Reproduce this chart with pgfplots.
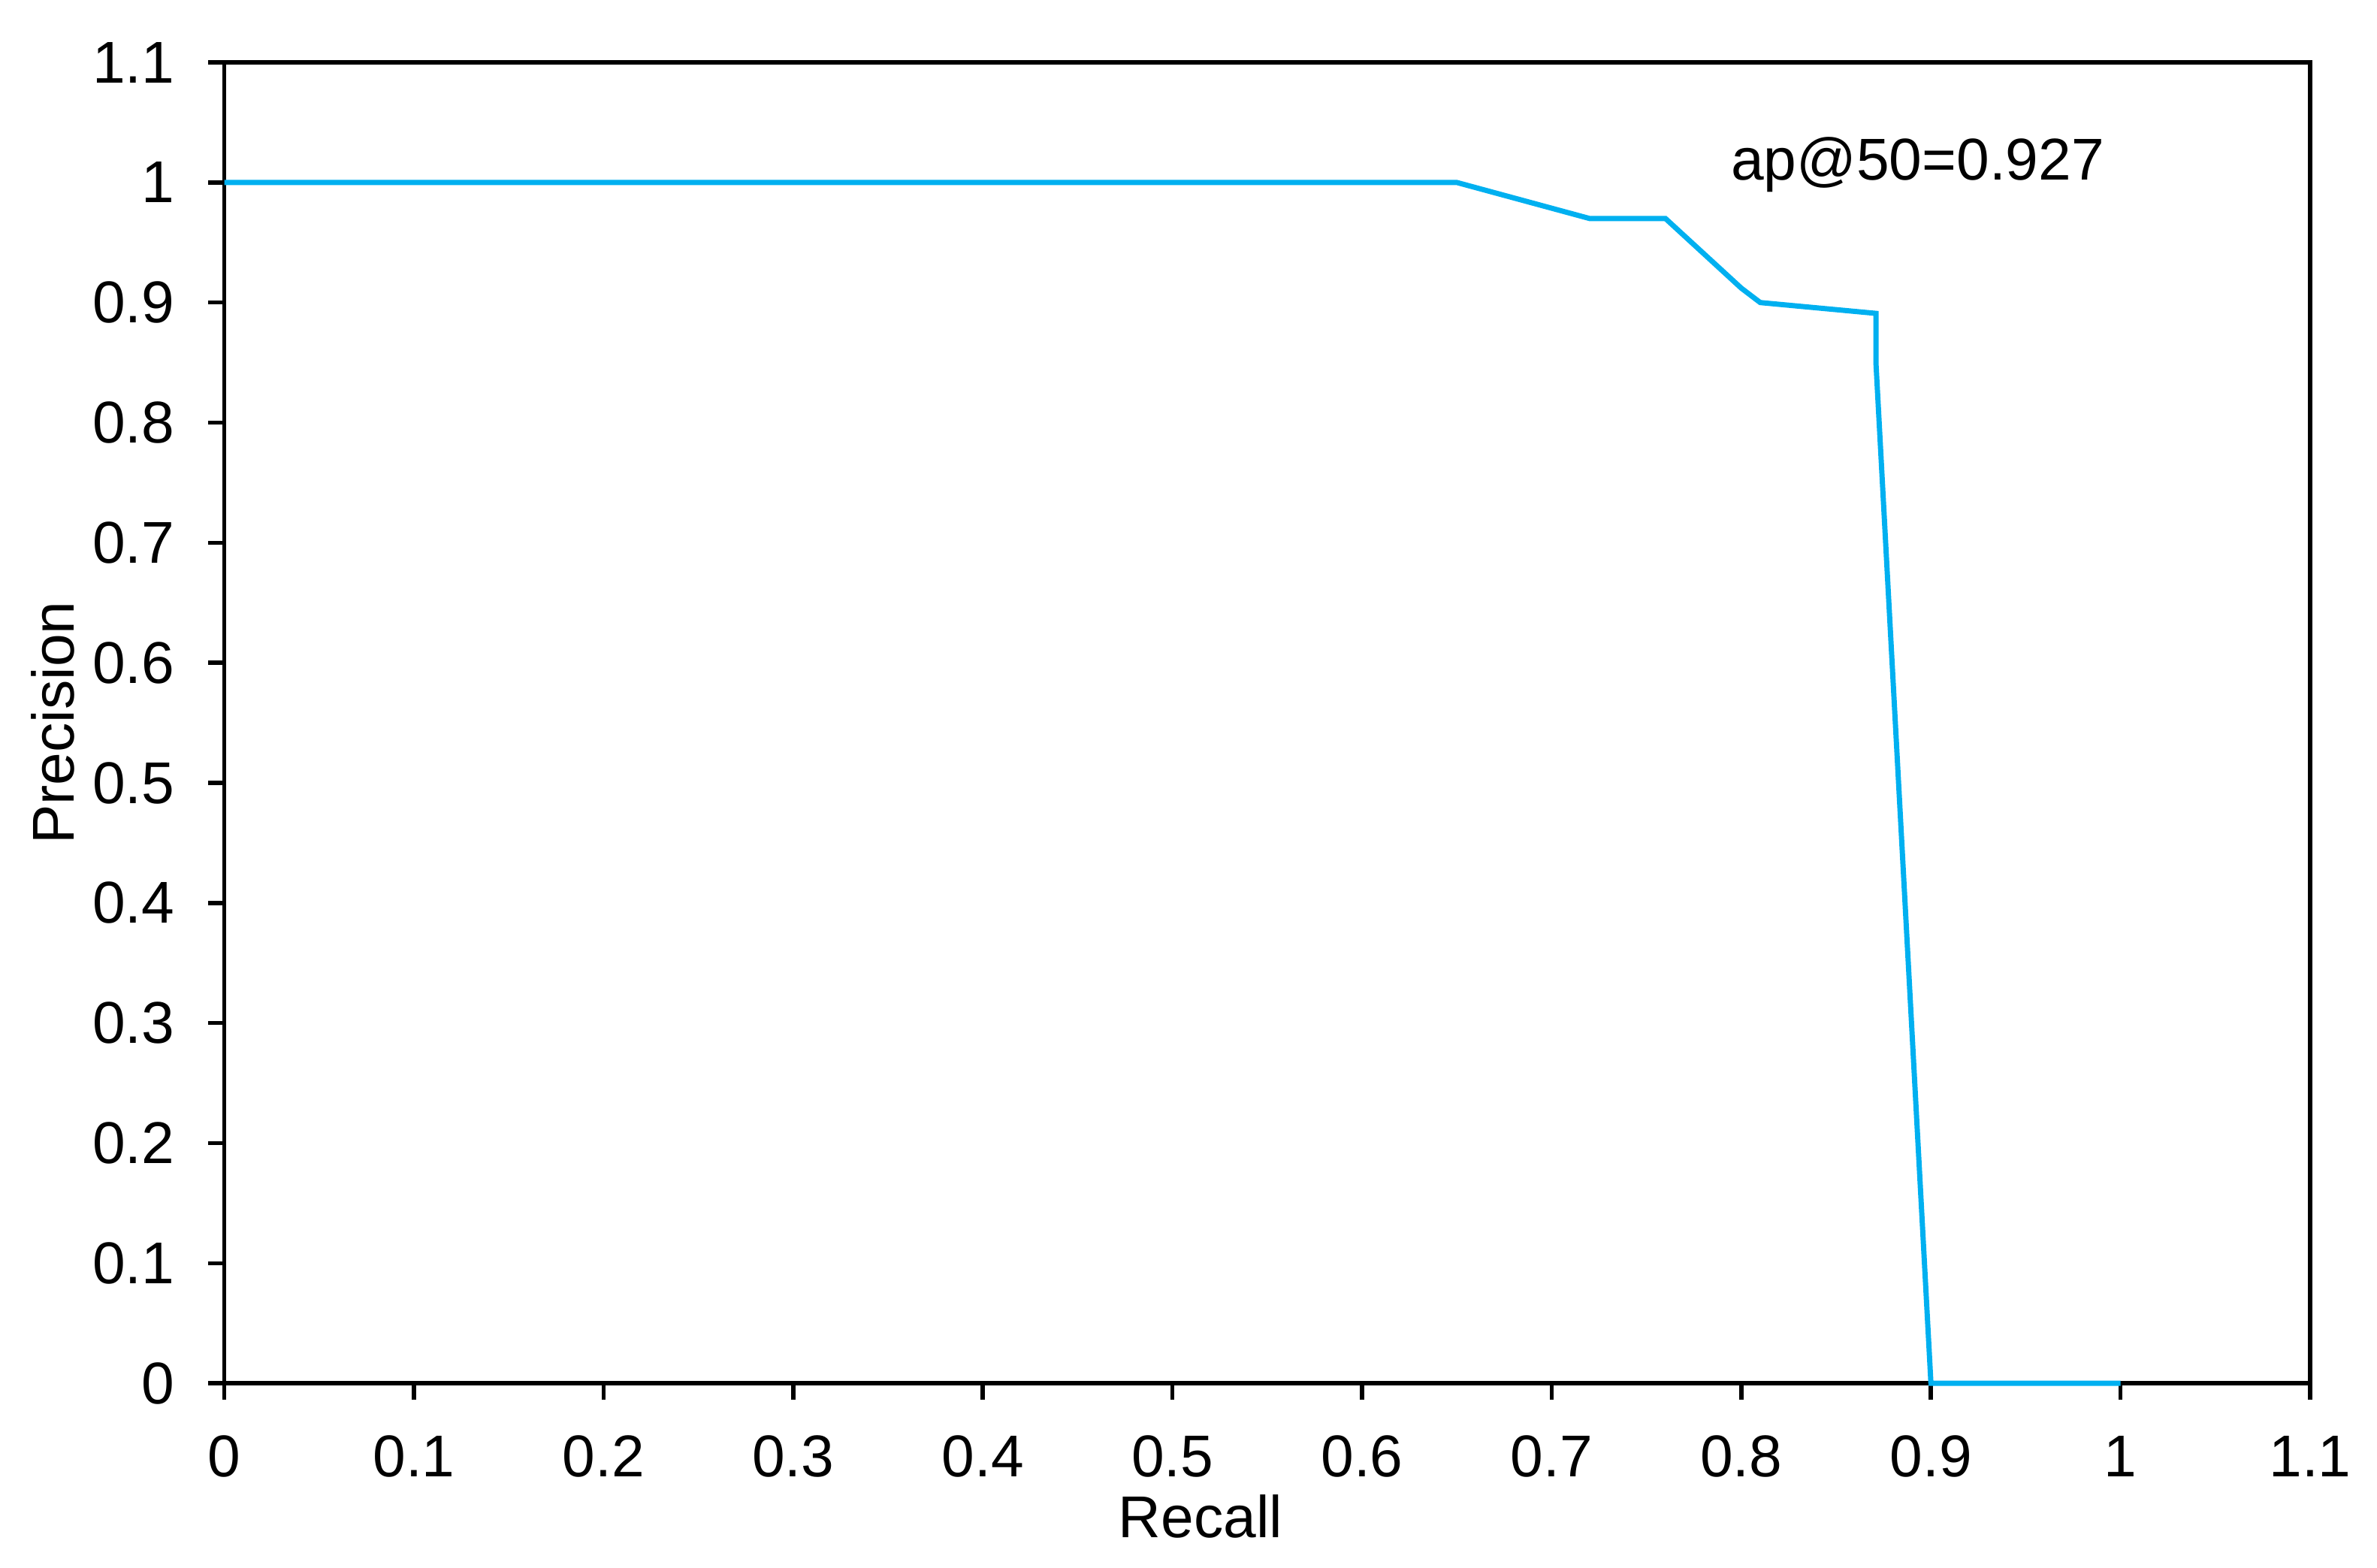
\documentclass[border=0pt]{standalone}
\usepackage{pgfplots}
\pgfplotsset{compat=1.18}
\usepackage{fontspec}
\setmainfont{Liberation Sans}
\definecolor{prblue}{RGB}{0,176,240}
\begin{document}
\begin{tikzpicture}
\begin{axis}[
  scale only axis,
  width=14.04cm, height=8.89cm,
  xmin=0, xmax=1.1, ymin=0, ymax=1.1,
  xtick={0,0.1,...,1.1}, ytick={0,0.1,...,1.1},
  xticklabels={0,0.1,0.2,0.3,0.4,0.5,0.6,0.7,0.8,0.9,1,1.1},
  yticklabels={0,0.1,0.2,0.3,0.4,0.5,0.6,0.7,0.8,0.9,1,1.1},
  tick align=outside,
  xtick pos=bottom, ytick pos=left,
  major tick length=0.11cm,
  axis line style={line width=0.8pt},
  every tick/.style={black, line width=0.8pt},
  tick label style={font=\fontsize{11.3}{13}\selectfont},
  xticklabel style={yshift=-0.12cm},
  yticklabel style={xshift=-0.1cm},
  label style={font=\fontsize{11.3}{13}\selectfont},
  xlabel={Recall}, ylabel={Precision},
  xlabel style={at={(axis description cs:0.468,0)}, anchor=base, yshift=-1.04cm},
  ylabel style={yshift=-0.12cm},
  clip=false,
]
\addplot[prblue, line width=1pt] coordinates {
  (0,1) (0.65,1) (0.72,0.97) (0.76,0.97) (0.80,0.912) (0.81,0.90)
  (0.871,0.891) (0.871,0.85) (0.90,0) (1.0,0)
};
\node[font=\fontsize{11.3}{13}\selectfont, anchor=base] at (axis cs:0.893,1.002) {ap@50=0.927};
\end{axis}
\path (current axis.south west) ++(-1.51cm,-1.24cm) (current axis.north east) ++(0.45cm,0.42cm);
\end{tikzpicture}
\end{document}
